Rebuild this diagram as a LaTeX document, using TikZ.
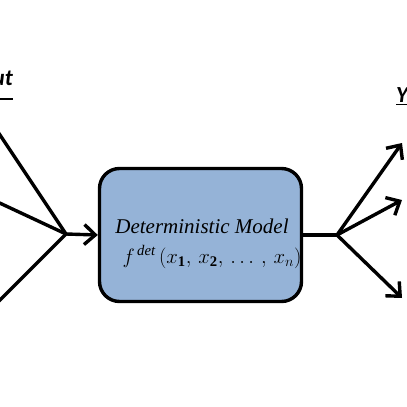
\documentclass[tikz,border=0pt]{standalone}
\usepackage{amsmath}
\usepackage{fontspec}
\setmainfont{Liberation Serif}
\newfontfamily\labelfont{Carlito}
\usetikzlibrary{arrows.meta}

\definecolor{modelblue}{RGB}{149,179,215}

\tikzset{
  wire/.style={line width=3.4pt},
  arr/.style={wire, -{Straight Barb[length=11pt,width=20pt,line width=3.4pt]}},
  model/.style={draw, line width=3.4pt, fill=modelblue, rounded corners=20pt,
    minimum width=202pt, minimum height=133pt, inner sep=0pt},
  side/.style={font=\labelfont\bfseries\itshape\fontsize{23}{25}\selectfont, inner sep=0pt}
}

\begin{document}
\begin{tikzpicture}[x=1pt,y=-1pt]
    \useasboundingbox (0,0) rectangle (407,407);
    \fill[white] (0,0) rectangle (407,407);
    % left side
    \node[side, anchor=base east] (In) at (13,85) {Input};
    \coordinate (In1) at (-10,120);
    \coordinate (In2) at (-10,198.5);
    \coordinate (In3) at (-10,310);
    \coordinate (J1) at (66,234);
    % the model
    \node[model] (M) at (200.5,235) {};
    \node[font=\itshape\fontsize{21}{23}\selectfont] (Mt) at (202,226) {Deterministic Model};
    \node[font=\fontsize{21}{23}\selectfont] (Mf) at (212,257) {$f^{\,\mathit{det}}\,(x_{\mathbf{1}},\, x_{\mathbf{2}},\, \ldots\,,\, x_{n})$};
    % right side
    \coordinate (J2) at (337,235);
    \coordinate (Out1) at (402,143);
    \coordinate (Out2) at (402,200);
    \coordinate (Out3) at (402,298);
    \node[side, anchor=base west] (Y) at (396,102) {Y};
    \draw[line width=1.8pt] (-70,99) -- (13,99);
    \draw[line width=1.8pt] (396,104.5) -- (430,104.5);
    \draw[wire] (In1) -- (J1);
    \draw[wire] (In2) -- (J1);
    \draw[wire] (In3) -- (J1);
    \draw[arr] (J1) -- (M.west);
    \draw[wire] (M.east) -- (J2);
    \draw[arr] (J2) -- (Out1);
    \draw[arr] (J2) -- (Out2);
    \draw[arr] (J2) -- (Out3);
  \end{tikzpicture}
\end{document}
